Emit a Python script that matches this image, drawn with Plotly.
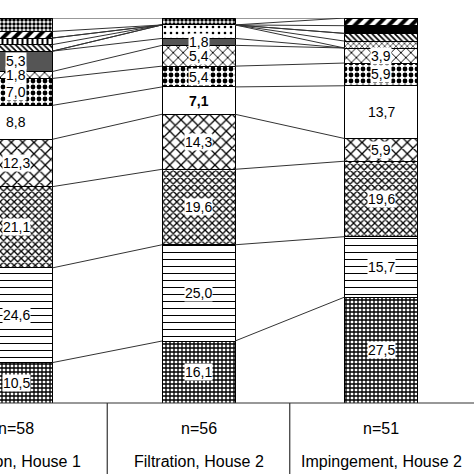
import numpy as np
import plotly.graph_objects as go

groups = ["Filtration, House 1", "Filtration, House 2", "Impingement, House 2"]
sample_sizes = [58, 56, 51]

# % per group, listed from the bottom of the stack upwards
grid_pct = [10.5, 16.1, 27.5]
dash_pct = [24.6, 25.0, 15.7]
wave_pct = [21.1, 19.6, 19.6]
diamond_pct = [12.3, 14.3, 5.9]
blank_pct = [8.8, 7.1, 13.7]
coarse_dot_pct = [7.0, 5.4, 5.9]
cross_pct = [1.8, 5.4, 3.9]
dark_pct = [5.3, 1.8, 0.0]
fine_dot_pct = [0.0, 3.5, 0.0]
small_wave_pct = [0.0, 0.0, 1.8]
hatch_pct = [1.7, 0.0, 2.0]
vbar_pct = [1.7, 0.0, 0.0]
black_pct = [0.0, 0.0, 2.0]
stripe_pct = [1.7, 0.0, 2.0]
checker_pct = [3.5, 1.8, 0.0]

# (values, pattern shape, pattern size, solidity, fill colour, show labels)
series = [
    (grid_pct, "+", 4, 0.55, "white", True),
    (dash_pct, "-", 7, 0.15, "white", True),
    (wave_pct, "x", 5, 0.45, "white", True),
    (diamond_pct, "x", 8, 0.3, "white", True),
    (blank_pct, "", 8, 0.2, "white", True),
    (coarse_dot_pct, ".", 6, 0.5, "white", True),
    (cross_pct, "x", 7, 0.25, "white", True),
    (dark_pct, "", 8, 0.2, "#555555", True),
    (fine_dot_pct, ".", 6, 0.15, "white", False),
    (small_wave_pct, "x", 4, 0.3, "white", False),
    (hatch_pct, "\\", 4, 0.4, "white", False),
    (vbar_pct, "|", 5, 0.4, "white", False),
    (black_pct, "", 8, 0.2, "black", False),
    (stripe_pct, "/", 8, 0.5, "white", False),
    (checker_pct, ".", 4, 0.6, "white", False),
]

BAR_W = 0.4
x = np.arange(len(groups))
fig = go.Figure()

bottoms = np.zeros(len(groups))
labels = []
link_x, link_y = [], []
for vals, shape, size, solid, color, labelled in series:
    vals = np.array(vals)
    pattern = dict(shape=shape, size=size, solidity=solid,
                   fgcolor="black", bgcolor=color, fillmode="replace")
    fig.add_trace(go.Bar(
        x=x, y=vals, width=BAR_W,
        marker=dict(color=color, pattern=pattern,
                    line=dict(color="black", width=1)),
        hoverinfo="skip", showlegend=False,
    ))
    tops = bottoms + vals
    for i, v in enumerate(vals):
        if labelled and v > 0:
            labels.append((i, bottoms[i] + v / 2, v))
    for i in range(len(groups) - 1):
        link_x += [x[i] + BAR_W / 2, x[i + 1] - BAR_W / 2, None]
        link_y += [tops[i], tops[i + 1], None]
    bottoms = tops

fig.add_trace(go.Scatter(
    x=link_x, y=link_y, mode="lines",
    line=dict(color="#333333", width=1),
    hoverinfo="skip", showlegend=False,
))

for i, yv, v in labels:
    txt = f"{v:.1f}".replace(".", ",")
    if i == 1 and v == blank_pct[1]:
        txt = f"<b>{txt}</b>"
    fig.add_annotation(
        x=i, y=yv, text=txt, showarrow=False, yanchor="middle",
        bgcolor="white", borderpad=0,
        font=dict(size=14, color="black"),
    )

# table under the bars
y_bot = 71 / 474
fig.add_shape(type="line", xref="paper", yref="paper",
              x0=0, x1=1, y0=y_bot, y1=y_bot,
              line=dict(color="#333333", width=1.2))
for i in range(len(groups) - 1):
    fig.add_shape(type="line", xref="x", yref="paper",
                  x0=x[i] + 0.5, x1=x[i] + 0.5, y0=0, y1=y_bot,
                  line=dict(color="#333333", width=1.2))
for i, (g, n) in enumerate(zip(groups, sample_sizes)):
    fig.add_annotation(x=i, y=45 / 474, xref="x", yref="paper",
                       text=f"n={n}", showarrow=False, yanchor="middle",
                       font=dict(size=16, color="black"))
    fig.add_annotation(x=i, y=13 / 474, xref="x", yref="paper",
                       text=g, showarrow=False, yanchor="middle",
                       font=dict(size=16, color="black"))

fig.update_layout(
    barmode="stack",
    width=474, height=474,
    margin=dict(l=0, r=0, t=0, b=0),
    paper_bgcolor="white", plot_bgcolor="white",
    font=dict(family="Liberation Sans, Arial, sans-serif"),
    xaxis=dict(range=[-16 / 182.5, 458 / 182.5], visible=False),
    yaxis=dict(range=[0, 100], domain=[y_bot, 456 / 474], visible=False),
)

# drop the default page margin so the figure sits at the window corner
fig.write_html(
    "out.html",
    config={"displayModeBar": False},
    post_script="document.body.style.margin = '0';",
)
